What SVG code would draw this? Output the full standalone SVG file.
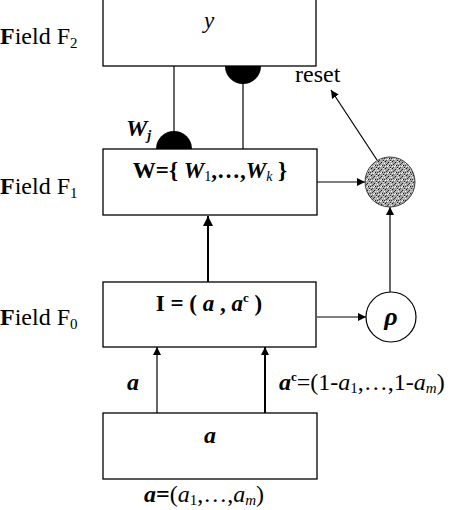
<svg xmlns="http://www.w3.org/2000/svg" width="456" height="510" viewBox="0 0 456 510">
<style>
text{font-family:"Liberation Serif","Times New Roman",serif;fill:#000}
.lbl{font-size:24px}
.m{font-size:24px;font-weight:bold;font-style:italic}
.box{fill:#fff;stroke:#000;stroke-width:1.3}
.ln{stroke:#000;stroke-width:1.2;fill:none}
.lnb{stroke:#000;stroke-width:2;fill:none}
</style>
<defs>
<marker id="ah" viewBox="0 0 10 10" refX="10" refY="5" markerWidth="8" markerHeight="8" markerUnits="userSpaceOnUse" orient="auto"><path d="M0,0L10,5L0,10z" fill="#000"/></marker>
<marker id="ahb" viewBox="0 0 10 10" refX="10" refY="5" markerWidth="10" markerHeight="10" markerUnits="userSpaceOnUse" orient="auto"><path d="M0,0L10,5L0,10z" fill="#000"/></marker>
<pattern id="stip" width="7" height="7" patternUnits="userSpaceOnUse">
<rect width="7" height="7" fill="#a8a8a8"/>
<rect x="0" y="0" width="1" height="1" fill="#111"/><rect x="3" y="1" width="1" height="1" fill="#222"/>
<rect x="1" y="3" width="1" height="1" fill="#333"/><rect x="4" y="4" width="1" height="1" fill="#111"/>
<rect x="6" y="2" width="1" height="1" fill="#fff"/><rect x="2" y="5" width="1" height="1" fill="#fff"/>
<rect x="2" y="2" width="1" height="1" fill="#444"/><rect x="5" y="6" width="1" height="1" fill="#222"/>
<rect x="5" y="0" width="1" height="1" fill="#eee"/><rect x="0" y="5" width="1" height="1" fill="#eee"/>
<rect x="6" y="4" width="1" height="1" fill="#333"/><rect x="4" y="2" width="1" height="1" fill="#ddd"/>
<rect x="1" y="6" width="1" height="1" fill="#555"/><rect x="3" y="4" width="1" height="1" fill="#fff"/>
</pattern>
</defs>

<text class="lbl" x="0" y="44"><tspan font-weight="bold">F</tspan>ield F<tspan font-size="15" dy="4">2</tspan></text>
<text class="lbl" x="0" y="194"><tspan font-weight="bold">F</tspan>ield F<tspan font-size="15" dy="4">1</tspan></text>
<text class="lbl" x="0" y="325"><tspan font-weight="bold">F</tspan>ield F<tspan font-size="15" dy="4">0</tspan></text>

<g id="connectors">
<line class="ln" x1="174" y1="66" x2="174" y2="140"/>
<line class="ln" x1="243" y1="66" x2="243" y2="149"/>
<path d="M156,149 A18,18 0 0 1 192,149 Z" fill="#000"/>
<path d="M225,66 A18,18 0 0 0 261,66 Z" fill="#000"/>
<line class="ln" x1="317" y1="182" x2="365" y2="182" marker-end="url(#ah)"/>
<line class="ln" x1="377" y1="160" x2="331" y2="90" marker-end="url(#ah)"/>
<line class="lnb" x1="208" y1="282" x2="208" y2="216" marker-end="url(#ahb)"/>
<line class="ln" x1="317" y1="317" x2="366" y2="317" marker-end="url(#ah)"/>
<line class="ln" x1="390" y1="292" x2="390" y2="207" marker-end="url(#ah)"/>
<line class="ln" x1="157" y1="413" x2="157" y2="347" marker-end="url(#ah)"/>
<line class="lnb" x1="265" y1="413" x2="265" y2="347" marker-end="url(#ah)"/>
</g>

<g id="f2">
<rect class="box" x="103" y="-2" width="213" height="68"/>
<text x="209" y="28" font-size="23" font-style="italic" text-anchor="middle">y</text>
</g>

<g id="f1">
<rect class="box" x="103" y="149" width="214" height="66"/>
<text x="210" y="178" font-size="23" font-weight="bold" text-anchor="middle">W={ <tspan font-style="italic">W</tspan><tspan font-size="14" dy="3" font-weight="normal">1</tspan><tspan dy="-3">,…,</tspan><tspan font-style="italic">W</tspan><tspan font-size="14" dy="3" font-style="italic" font-weight="normal">k</tspan><tspan dy="-3"> }</tspan></text>
</g>

<text x="126" y="136" class="m">W<tspan font-size="14" dy="4">j</tspan></text>

<g id="reset">
<text class="lbl" x="295" y="82">reset</text>
</g>

<g id="orient">
<circle cx="390" cy="182" r="25" fill="url(#stip)" stroke="#444" stroke-width="1"/>
</g>

<g id="f0">
<rect class="box" x="103" y="282" width="213" height="65"/>
<text x="209" y="311" font-size="23" font-weight="bold" text-anchor="middle">I = ( <tspan font-style="italic">a</tspan> , <tspan font-style="italic">a</tspan><tspan font-size="13" dy="-9">c</tspan><tspan dy="9"> )</tspan></text>
</g>

<g id="rho">
<circle cx="391" cy="317" r="25" fill="#fff" stroke="#000" stroke-width="1.2"/>
<text x="391" y="325" font-size="26" font-weight="bold" font-style="italic" text-anchor="middle">ρ</text>
</g>

<text x="127" y="390" class="m">a</text>
<text x="279" y="390" class="lbl"><tspan class="m">a</tspan><tspan font-size="13" font-weight="bold" dy="-9">c</tspan><tspan dy="9">=(1-</tspan><tspan font-style="italic">a</tspan><tspan font-size="15" dy="3">1</tspan><tspan dy="-3">,…,1-</tspan><tspan font-style="italic">a</tspan><tspan font-size="15" font-style="italic" dy="3">m</tspan><tspan dy="-3">)</tspan></text>

<g id="input">
<rect class="box" x="103" y="413" width="214" height="66"/>
<text x="210" y="443" class="m" text-anchor="middle">a</text>
</g>

<text x="144" y="502" class="lbl"><tspan class="m">a</tspan><tspan font-weight="bold">=</tspan>(<tspan font-style="italic">a</tspan><tspan font-size="15" dy="3">1</tspan><tspan dy="-3">,…,</tspan><tspan font-style="italic">a</tspan><tspan font-size="15" font-style="italic" dy="3">m</tspan><tspan dy="-3">)</tspan></text>
</svg>
